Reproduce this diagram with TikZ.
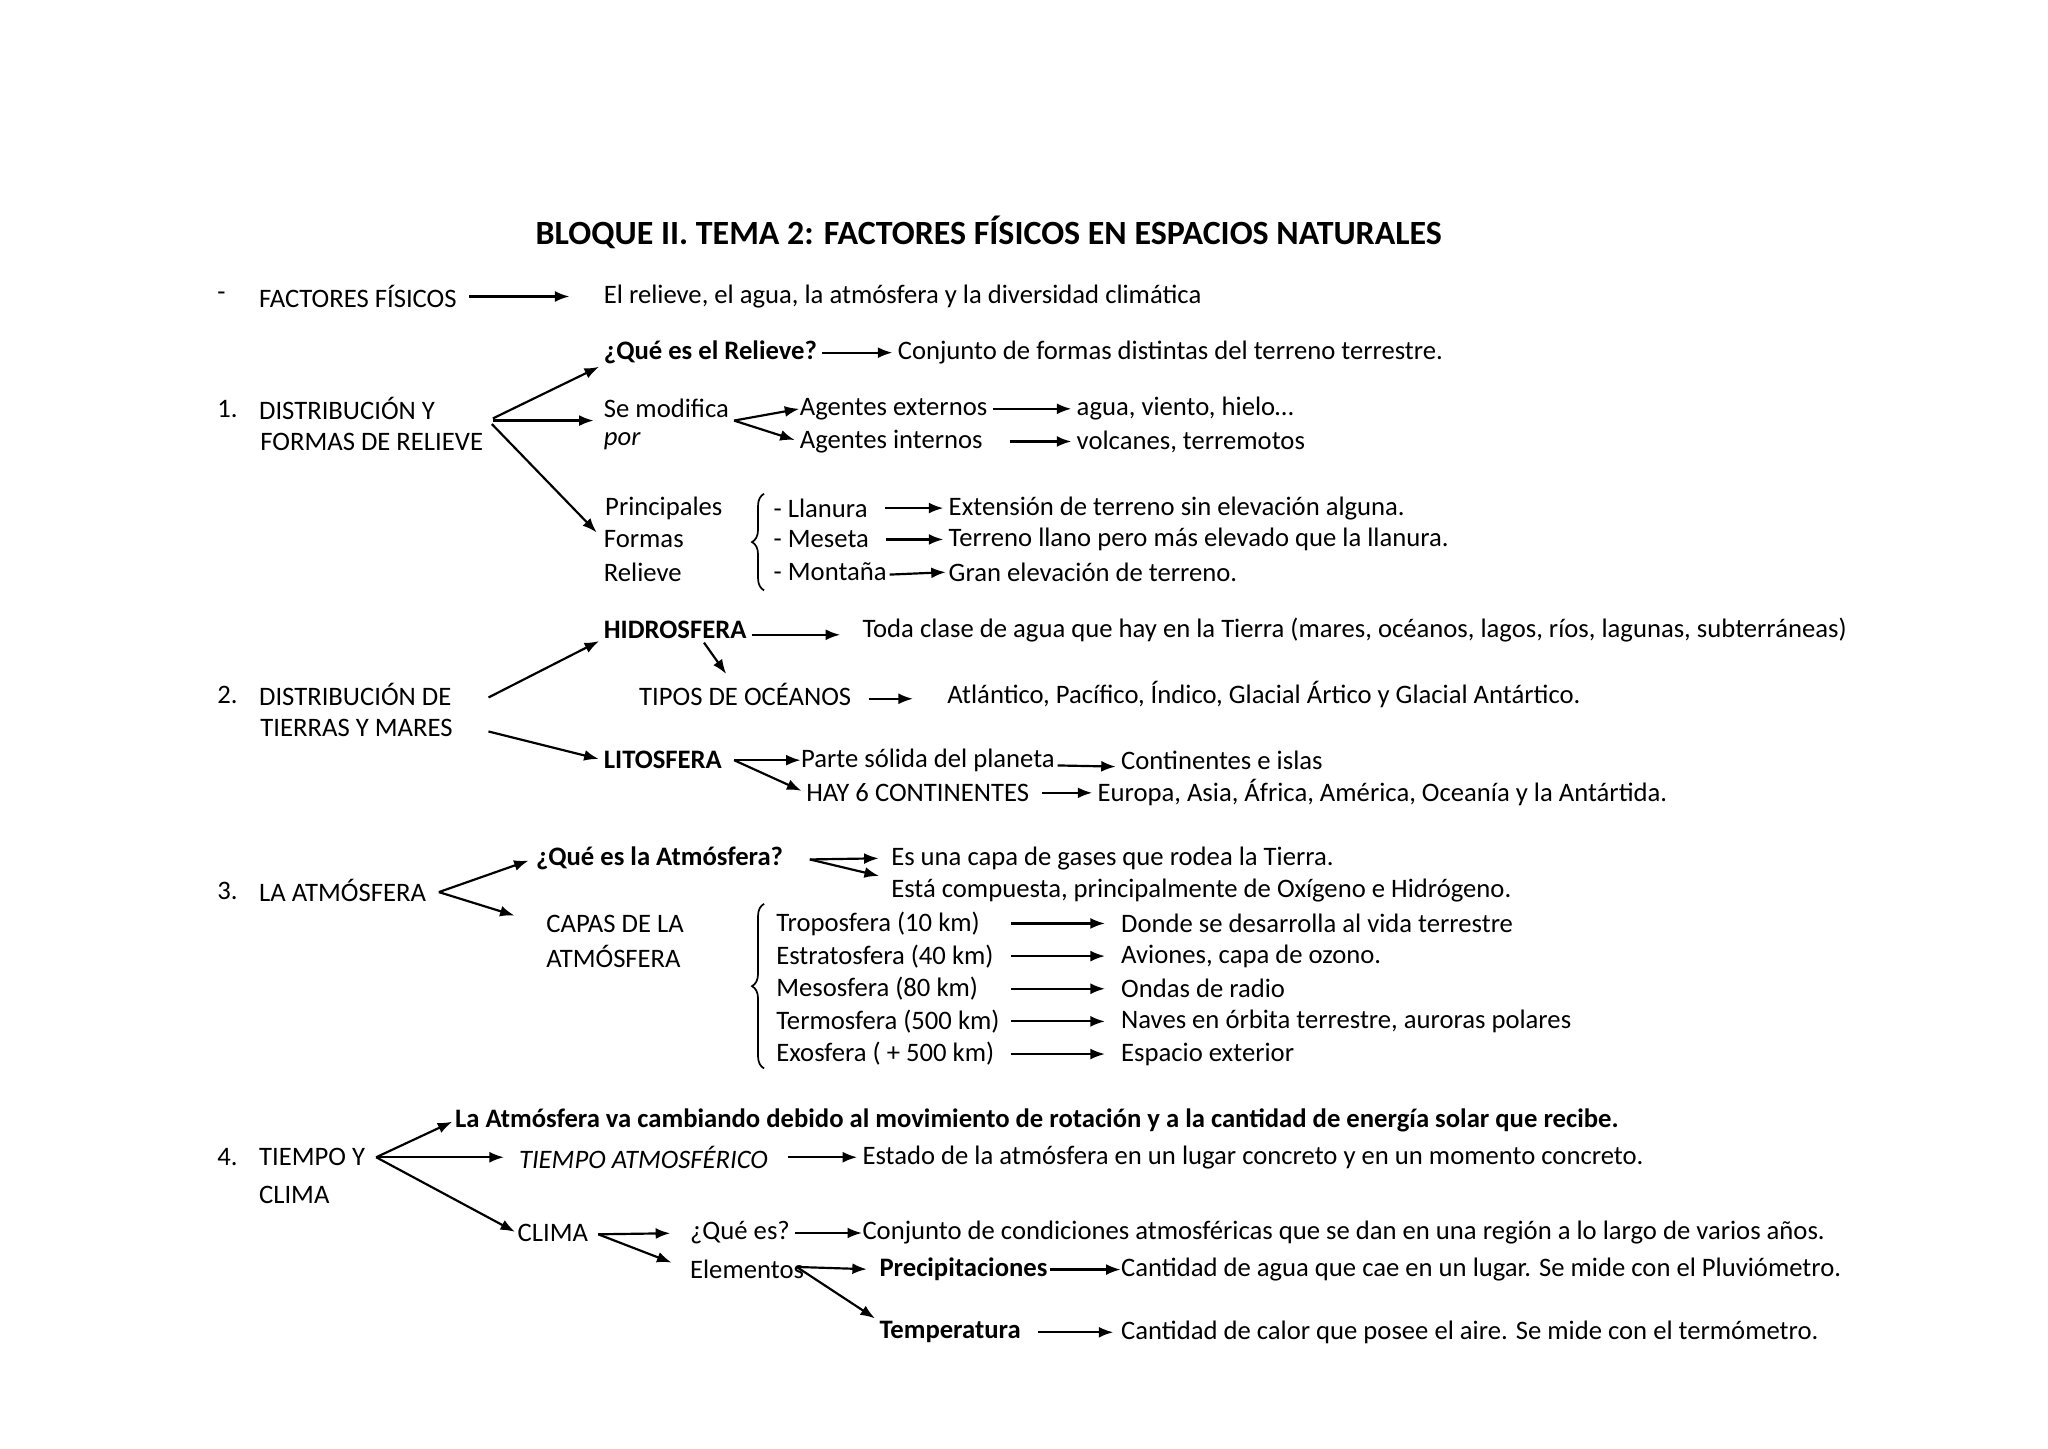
\documentclass[tikz,border=0pt]{standalone}
\usepackage{fontspec}
\setmainfont{Carlito}
\usetikzlibrary{arrows.meta,decorations.pathreplacing}
\tikzset{
  txt/.style={anchor=west,inner sep=0pt,font=\fontsize{11}{13}\selectfont},
  bld/.style={txt,font=\fontsize{11}{13}\selectfont\bfseries},
  itl/.style={txt,font=\fontsize{11}{13}\selectfont\itshape},
  arr/.style={-{Latex[length=6pt,width=4.5pt]},line width=0.9pt,shorten <=2pt,shorten >=2pt},
  brc/.style={decorate,decoration={brace,amplitude=5pt},line width=0.7pt}
}
\begin{document}
\begin{tikzpicture}[x=0.01894cm,y=-0.01894cm]
\useasboundingbox (0,0) rectangle (1568,1109);
% title
\node[inner sep=0pt,font=\fontsize{14}{16}\selectfont\bfseries] (title) at (757,178) {BLOQUE II. TEMA 2: FACTORES FÍSICOS EN ESPACIOS NATURALES};
% factores
\node[txt] (dash) at (166,227) {-};
\node[txt] (ffis) at (198,227) {FACTORES FÍSICOS};
\node[txt] (ffisd) at (462,227) {El relieve, el agua, la atmósfera y la diversidad climática};
\draw[arr,shorten <=5pt,shorten >=14pt] (ffis.east) -- (ffisd.west);
% 1. relieve
\node[txt] (n1) at (166,313) {1.};
\node[txt] (rel1) at (198,313) {DISTRIBUCIÓN Y};
\node[txt] (rel2) at (199,338) {FORMAS DE RELIEVE};
\coordinate (f1) at (374,322);
\node[bld] (qrel) at (462,270) {¿Qué es el Relieve?};
\node[txt] (qreld) at (687,270) {Conjunto de formas distintas del terreno terrestre.};
\draw[arr] (qrel.east) -- (qreld.west);
\node[txt] (smod) at (462,313) {Se modifica};
\node[itl] (por) at (462,338) {por};
\node[txt] (agext) at (612,313) {Agentes externos};
\node[txt] (agint) at (612,338) {Agentes internos};
\node[txt] (agextd) at (824,313) {agua, viento, hielo…};
\node[txt] (agintd) at (824,338) {volcanes, terremotos};
\node[txt] (pri) at (463,389) {Principales};
\node[txt] (for) at (462,413) {Formas};
\node[txt] (relv) at (462,438) {Relieve};
\draw[arr] (f1) -- (qrel.south west);
\draw[arr,shorten >=4pt] (f1) -- (smod.west |- f1);
\draw[arr,shorten >=4pt] (f1) -- (for.west);
\coordinate (f1b) at (562,322);
\draw[arr,shorten <=0pt,shorten >=0pt] (f1b) -- (agext.west);
\draw[arr,shorten <=0pt,shorten >=2pt] (f1b) -- (agint.west);
\draw[arr] (agext.east) -- (agextd.west);
\draw[arr,shorten <=11pt] (agint.east) -- (agintd.west);
\draw[brc] (585,452) -- (585,378);
\node[txt] (lla) at (592,389) {- Llanura};
\node[txt] (mes) at (592,413) {- Meseta};
\node[txt] (mon) at (592,438) {- Montaña};
\node[txt] (llad) at (726,389) {Extensión de terreno sin elevación alguna.};
\node[txt] (mesd) at (726,413) {Terreno llano pero más elevado que la llanura.};
\node[txt] (mond) at (726,438) {Gran elevación de terreno.};
\draw[arr,shorten <=7pt] (lla.east) -- (llad.west);
\draw[arr,shorten <=7pt] (mes.east) -- (mesd.west);
\draw[arr,shorten <=1pt,shorten >=1pt] (mon.east) ++(0,2) -- (mond.west);
% 2. tierras y mares
\node[txt] (n2) at (166,532) {2.};
\node[txt] (tym1) at (198,532) {DISTRIBUCIÓN DE};
\node[txt] (tym2) at (199,557) {TIERRAS Y MARES};
\node[bld] (hid) at (462,482) {HIDROSFERA};
\node[txt] (hidd) at (660,482) {Toda clase de agua que hay en la Tierra (mares, océanos, lagos, ríos, lagunas, subterráneas)};
\draw[arr,shorten >=9pt] (hid.east) ++(0,4) -- (hidd.west |- 0,486);
\node[txt] (tip) at (489,532) {TIPOS DE OCÉANOS};
\node[txt] (tipd) at (725,532) {Atlántico, Pacífico, Índico,  Glacial Ártico y Glacial Antártico.};
\draw[arr,shorten <=0pt,shorten >=0pt] (539,492) -- (556,516);
\draw[arr,shorten <=7pt,shorten >=14pt] (tip.east) ++(0,3) -- (tipd.west |- 0,535);
\node[bld] (lit) at (462,582) {LITOSFERA};
\draw[arr,shorten <=0pt] (374,534) -- (hid.south west);
\draw[arr,shorten <=0pt] (374,560) -- (lit.west);
\node[txt] (sol) at (613,582) {Parte sólida  del planeta};
\node[txt] (hay) at (617,607) {HAY 6 CONTINENTES};
\node[txt] (sold) at (858,582) {Continentes e islas};
\node[txt] (hayd) at (840,607) {Europa, Asia, África, América, Oceanía y la Antártida.};
\coordinate (f2) at (562,582);
\draw[arr,shorten <=0pt,shorten >=0pt] (f2) -- (sol.west);
\draw[arr,shorten <=0pt,shorten >=2pt] (f2) -- (hay.west);
\draw[arr,shorten <=1pt] (sol.east) ++(0,4) -- (sold.west |- 0,587);
\draw[arr,shorten <=5pt] (hay.east) -- (hayd.west);
% 3. atmosfera
\node[txt] (n3) at (166,682) {3.};
\node[txt] (atm) at (198,682) {LA ATMÓSFERA};
\coordinate (f3) at (336,683);
\node[bld] (qatm) at (410,657) {¿Qué es la Atmósfera?};
\node[txt] (cap1) at (418,707) {CAPAS DE LA};
\node[txt] (cap2) at (418,732) {ATMÓSFERA};
\draw[arr,shorten <=0pt,shorten >=3pt] (f3) -- (qatm.west);
\draw[arr,shorten <=0pt,shorten >=0pt] (f3) -- (394,701);
\node[txt] (qatm1) at (682,657) {Es una capa de gases que rodea la Tierra.};
\node[txt] (qatm2) at (682,682) {Está compuesta, principalmente de Oxígeno e Hidrógeno.};
\coordinate (f3b) at (620,658);
\draw[arr,shorten <=0pt,shorten >=5pt] (f3b) -- (qatm1.west);
\draw[arr,shorten <=0pt,shorten >=5pt] (f3b) -- (qatm2.north west);
\draw[brc] (585,818) -- (585,692);
\coordinate (ca) at (774,0);
\coordinate (cb) at (846,0);
\foreach \nm/\yy/\lay/\des in {tro/707/Troposfera (10 km)/Donde se desarrolla al vida terrestre,
  est/732/Estratosfera (40 km)/{Aviones, capa de ozono.},
  mesf/757/Mesosfera (80 km)/Ondas de radio,
  ter/782/Termosfera (500 km)/{Naves en órbita terrestre, auroras polares},
  exo/807/Exosfera ( + 500 km)/Espacio exterior}{
  \node[txt] (\nm) at (594,\yy) {\lay};
  \node[txt] (\nm d) at (858,\yy) {\des};
  \draw[arr,shorten <=0pt,shorten >=0pt] (\nm -| ca) -- (\nm -| cb);
}
% 4. tiempo y clima
\node[txt] (n4) at (166,886) {4.};
\node[txt] (tyc1) at (198,886) {TIEMPO Y};
\node[txt] (tyc2) at (198,915) {CLIMA};
\coordinate (f4) at (288,886);
\node[bld] (camb) at (348,858) {La Atmósfera va cambiando debido al movimiento de rotación y a la cantidad de energía solar que recibe.};
\node[itl] (tat) at (397,886) {TIEMPO ATMOSFÉRICO};
\node[txt] (tatd) at (660,886) {Estado de la atmósfera en un lugar concreto y en un momento concreto.};
\node[txt] (cli) at (396,944) {CLIMA};
\draw[arr,shorten <=0pt,shorten >=1pt] (f4) -- (camb.west);
\draw[arr,shorten <=0pt,shorten >=6pt] (f4) -- (tat.west);
\draw[arr,shorten <=0pt,shorten >=1pt] (f4) -- (cli.west);
\draw[arr,shorten <=8pt] (tat.east) -- (tatd.west);
\node[txt] (ques) at (528,944) {¿Qué es?};
\node[txt] (quesd) at (660,944) {Conjunto de condiciones atmosféricas que se dan en una región a lo largo de varios años.};
\node[txt] (ele) at (528,972) {Elementos};
\coordinate (f4b) at (458,945);
\draw[arr,shorten <=0pt,shorten >=8pt] (f4b) -- (ques.west);
\draw[arr,shorten <=0pt,shorten >=8pt] (f4b) -- (ele.west);
\draw[arr,shorten >=0pt] (ques.east) -- (quesd.west);
\node[bld] (pre) at (673,972) {Precipitaciones};
\node[bld] (tem) at (673,1020) {Temperatura};
\node[txt] (pred) at (858,972) {Cantidad de agua que cae en un lugar. Se mide con el Pluviómetro.};
\node[txt] (temd) at (858,1020) {Cantidad de calor que posee el aire. Se mide con el termómetro.};
\coordinate (f4c) at (610,970);
\draw[arr,shorten <=0pt,shorten >=5pt] (f4c) -- (pre.west);
\draw[arr,shorten <=0pt,shorten >=2pt] (f4c) -- (tem.north west);
\draw[arr,shorten <=1pt,shorten >=0pt] (pre.east) -- (pred.west);
\draw[arr,shorten <=7pt,shorten >=3pt] (tem.east) -- (temd.west);
\end{tikzpicture}
\end{document}
